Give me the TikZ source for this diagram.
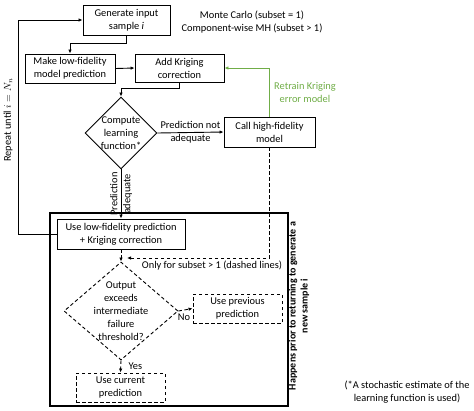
\documentclass[tikz,border=0pt]{standalone}
\usepackage{fontspec}
\setmainfont{Carlito}
\usetikzlibrary{arrows.meta,shapes.geometric}
\definecolor{retrain}{RGB}{112,173,71}

\begin{document}
\begin{tikzpicture}[x=1pt,y=-1pt,
    font=\fontsize{10.4}{13}\selectfont,
    stepbox/.style={draw,align=center,line width=.9pt,inner sep=1pt},
    decision/.style={draw,diamond,line width=.9pt,inner sep=0pt},
    dashline/.style={dash pattern=on 3.5pt off 2.5pt},
    arr/.style={-{Latex[length=4pt,width=3.5pt]},line width=.9pt}]
  \useasboundingbox (0,0) rectangle (474,410);
  % main loop
  \node[stepbox,minimum width=87pt,minimum height=30pt] (gen) at (126.5,20) {Generate input\\sample \textit{i}};
  \node[align=center] (sampler) at (252,22) {Monte Carlo (subset = 1)\\Component-wise MH (subset > 1)};
  \node[stepbox,minimum width=90pt,minimum height=29pt] (lofi) at (70,68.5) {Make low-fidelity\\model prediction};
  \node[stepbox,minimum width=89pt,minimum height=28pt] (krig) at (179.5,68) {Add Kriging\\correction};
  \node[decision,minimum width=72pt,minimum height=72pt] (learn) at (121,133) {};
  \node[align=center] at (learn) {Compute\\learning\\function*};
  \node[stepbox,minimum width=91pt,minimum height=30pt] (hifi) at (269.5,132) {Call high-fidelity\\model};
  \draw[arr] (gen.south) -- ++(0,8) -| (lofi.north);
  \draw[arr] (lofi.east) -- (krig.west);
  \draw[arr] (krig.south) -- ++(0,6) -| (learn.north);
  \draw[arr] (learn.east) -- (hifi.west) node[midway,align=center] {Prediction not\\adequate};
  \draw[arr,retrain] (hifi.north) |- (krig.east);
  \node[align=center,text=retrain] (retrainlbl) at (305,92) {Retrain Kriging\\error model};
  % inner block
  \node[draw,line width=1.6pt,minimum width=238pt,minimum height=193pt] (frame) at (169,309.5) {};
  \node[stepbox,minimum width=128pt,minimum height=30pt] (use) at (121,234) {Use low-fidelity prediction\\+ Kriging correction};
  \draw[arr] (learn.south) -- (use.north) node[midway,rotate=90,align=center] {Prediction\\adequate};
  \draw[arr] (use.west) -- ++(-38,0) |- (gen.west);
  \node[rotate=90] (repeat) at (8,120) {Repeat until $i = N_n$};
  \node[decision,dashline,minimum width=114pt,minimum height=98pt] (thresh) at (121,311) {};
  \node[align=center] at (thresh) {Output\\exceeds\\intermediate\\failure\\threshold?};
  \node[stepbox,dashline,minimum width=89pt,minimum height=29pt] (prev) at (237.5,308.5) {Use previous\\prediction};
  \node[stepbox,dashline,minimum width=89pt,minimum height=29pt] (cur) at (120.5,387.5) {Use current\\prediction};
  \coordinate (merge) at (127,258);
  \draw[arr,dashline] (use.south) -- (thresh.north);
  \draw[arr,dashline] (hifi.south) |- (merge);
  \node (onlylbl) at (212,266) {Only for subset > 1 (dashed lines)};
  \draw[arr,dashline] (thresh.east) -- (prev.west) node[pos=.4,below] {No};
  \draw[arr,dashline] (thresh.south) -- (cur.north) node[midway,right=4pt] {Yes};
  \node[rotate=90,align=center,font=\fontsize{10}{12}\selectfont\bfseries] (happens) at (299,306) {Happens prior to returning to generate a\\new sample i};
  \node[align=center] (note) at (407,392) {(*A stochastic estimate of the\\learning function is used)};
\end{tikzpicture}
\end{document}
